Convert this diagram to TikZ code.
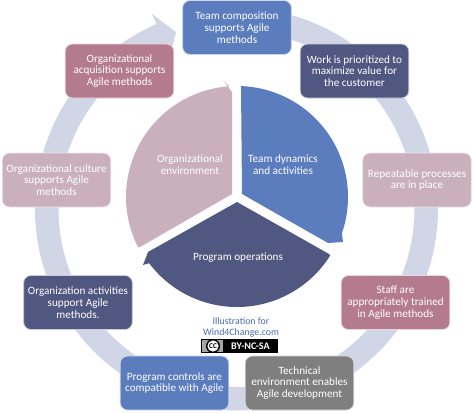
\documentclass[tikz,border=0pt]{standalone}
\usepackage{fontspec}
\setmainfont{Carlito}
\definecolor{cblue}{HTML}{5B7DBE}
\definecolor{cpink}{HTML}{B47B8F}
\definecolor{cnavy}{HTML}{505780}
\definecolor{cpale}{HTML}{C9B0BC}
\definecolor{cgrey}{HTML}{7F7F7F}
\definecolor{cring}{HTML}{D0D6E6}
\definecolor{clink}{HTML}{4A6DB0}
\tikzset{
  card/.style={draw=white!70!#1,line width=0.6pt,fill=#1,rounded corners=5.5pt,text=white,align=center,
    minimum width=81.5pt,minimum height=40.5pt,inner sep=0pt,font=\fontsize{8.4pt}{8.8pt}\selectfont},
  pielabel/.style={text=white,align=center,font=\fontsize{8.4pt}{8.8pt}\selectfont,inner sep=0pt},
  credit/.style={text=clink,align=center,font=\fontsize{7.4pt}{8.25pt}\selectfont,inner sep=0pt}
}
\begin{document}
\begin{tikzpicture}[x=0.75pt,y=-0.75pt]
\useasboundingbox (0,0) rectangle (474,412);
\fill[white] (0,0) rectangle (474,412);
% ring
\fill[cring] plot[domain=-88:246.6,samples=150] ({236.5+201.5*cos(\x)},{209+201.5*sin(\x)})
  -- (152,14) -- (176,32) -- (170,56)
  -- plot[domain=246.6:-88,samples=150] ({236.5+178*cos(\x)},{209+178*sin(\x)}) -- cycle;
% pie
\fill[cblue] (241,87) -- plot[domain=-88:19,samples=60] ({237+111*cos(\x)},{197+111*sin(\x)})
  -- (343,242) -- (328,243) -- (242,194) -- cycle;
\fill[cnavy] (237,202) -- (329,254) -- plot[domain=32:143,samples=60] ({237+110*cos(\x)},{197+110*sin(\x)})
  -- (143,265) -- (148,252) -- cycle;
\fill[cpale] (140,247) -- plot[domain=153:266,samples=60] ({237+111*cos(\x)},{197+111*sin(\x)})
  -- (223,80) -- (232,92) -- (232,194) -- cycle;
\node[pielabel] (env) at (190,165) {Organizational\\environment};
\node[pielabel] (team) at (283,165) {Team dynamics\\and activities};
\node[pielabel] (ops) at (238,258) {Program operations};
% cards
\node[card=cblue] (c1) at (237,27.5) {Team composition\\supports Agile\\methods};
\node[card=cnavy] (c2) at (354.5,71) {Work is prioritized to\\maximize value for\\the customer};
\node[card=cpale] (c3) at (417,180) {Repeatable processes\\are in place};
\node[card=cpink] (c4) at (395.5,302.5) {Staff are\\appropriately trained\\in Agile methods};
\node[card=cgrey] (c5) at (299.5,383) {Technical\\environment enables\\Agile development};
\node[card=cblue] (c6) at (174.5,383) {Program controls are\\compatible with Agile};
\node[card=cnavy] (c7) at (78,302.5) {Organization activities\\support Agile\\methods.};
\node[card=cpale] (c8) at (56.5,180) {Organizational culture\\supports Agile\\methods};
\node[card=cpink] (c9) at (119.5,71) {Organizational\\acquisition supports\\Agile methods};
% credit
\node[credit] (cr) at (241,327.5) {Illustration for\\Wind4Change.com};
\fill[black] (201,339) rectangle (278,353);
\fill[gray!70] (202,340) rectangle (223,352);
\fill[black] (213,346) circle[radius=7];
\fill[white] (213,346) circle[radius=5.6];
\node[inner sep=0pt,font=\bfseries\fontsize{5.5pt}{5.5pt}\selectfont] (cc) at (213,346) {CC};
\node[text=white,inner sep=0pt,font=\bfseries\fontsize{7.6pt}{7pt}\selectfont] (by) at (250.5,346) {BY-NC-SA};
\end{tikzpicture}
\end{document}
